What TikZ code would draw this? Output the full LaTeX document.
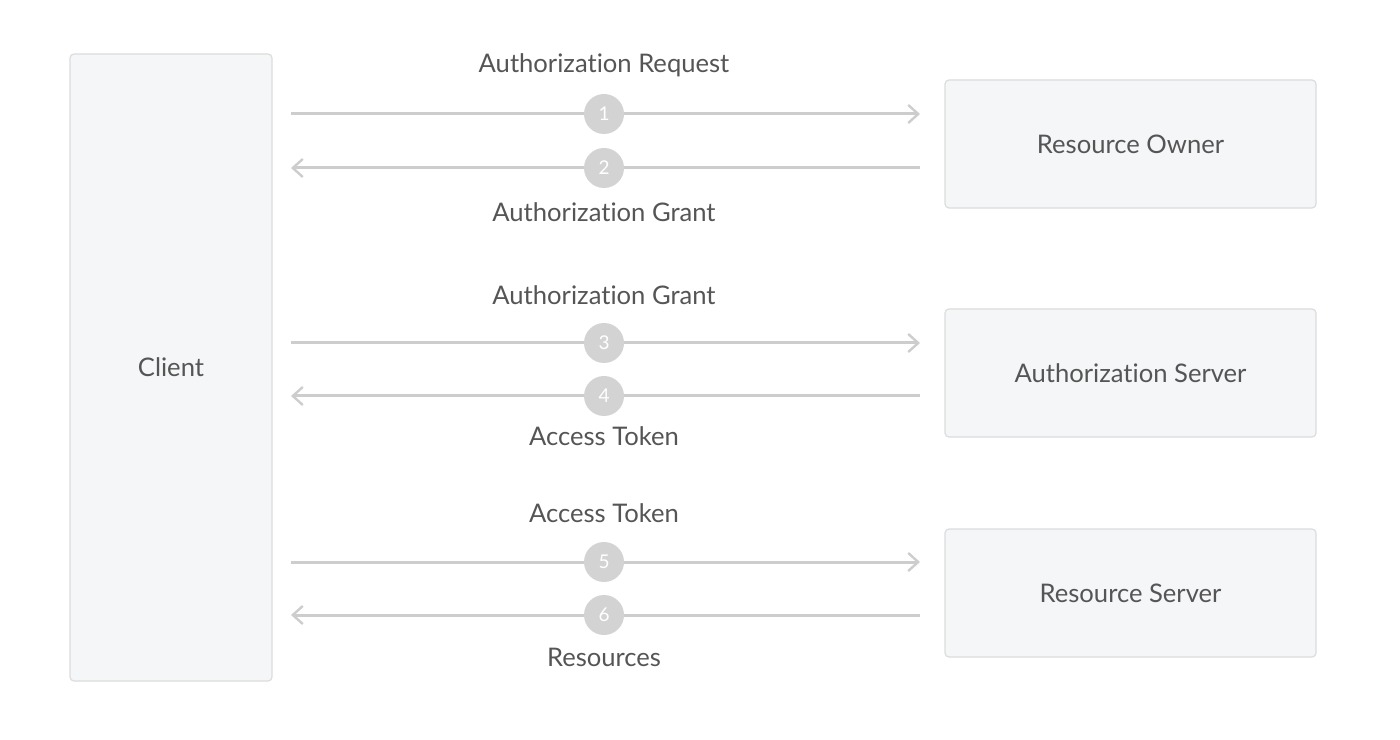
\documentclass[tikz,border=0pt]{standalone}
\usepackage{fontspec}
\setmainfont[Ligatures={NoCommon,NoRare}]{Lato}
\usetikzlibrary{arrows.meta}
\definecolor{boxfill}{HTML}{F5F6F8}
\definecolor{boxline}{HTML}{DCDCDC}
\definecolor{flowline}{HTML}{CDCDCD}
\definecolor{stepfill}{HTML}{D3D3D3}
\definecolor{txt}{HTML}{555555}
\begin{document}
\begin{tikzpicture}[x=0.5pt, y=0.5pt,
    party/.style={draw=boxline, line width=0.6pt, fill=boxfill, rounded corners=2pt,
        inner sep=0pt, text=txt, font=\fontsize{12.8}{15}\selectfont},
    flow/.style={draw=flowline, line width=1.5pt, -{Straight Barb[length=5pt, width=9pt, line width=1.2pt]}},
    stepnum/.style={circle, fill=stepfill, minimum size=20pt, inner sep=0pt,
        text=white, font=\fontsize{9.5}{11}\selectfont},
    msg/.style={text=txt, font=\fontsize{12.8}{15}\selectfont}]
    \useasboundingbox (0,0) rectangle (1400,739);
    % the four parties
    \node[party, minimum width=101pt, minimum height=313.5pt] (client) at (171,371.5) {Client};
    \node[party, minimum width=185.5pt, minimum height=64pt] (owner) at (1130.5,595) {Resource Owner};
    \node[party, minimum width=185.5pt, minimum height=64pt] (authsrv) at (1130.5,366) {Authorization Server};
    \node[party, minimum width=185.5pt, minimum height=64pt] (ressrv) at (1130.5,146) {Resource Server};
    % ends of the flows
    \foreach \n/\y in {1/625, 2/571, 3/396, 4/343, 5/177, 6/124} {
        \coordinate (l\n) at (291,\y);
        \coordinate (r\n) at (920,\y);
    }
    \draw[flow] (l1) -- (r1);
    \draw[flow] (r2) -- (l2);
    \draw[flow] (l3) -- (r3);
    \draw[flow] (r4) -- (l4);
    \draw[flow] (l5) -- (r5);
    \draw[flow] (r6) -- (l6);
    % numbered steps
    \foreach \n in {1,...,6}
        \node[stepnum] (s\n) at (604,0 |- l\n) {\n};
    % messages
    \node[msg] (m1) at (604,674) {Authorization Request};
    \node[msg] (m2) at (604,527) {Authorization Grant};
    \node[msg] (m3) at (604,444) {Authorization Grant};
    \node[msg] (m4) at (604,303) {Access Token};
    \node[msg] (m5) at (604,226) {Access Token};
    \node[msg] (m6) at (604,82) {Resources};
\end{tikzpicture}
\end{document}
